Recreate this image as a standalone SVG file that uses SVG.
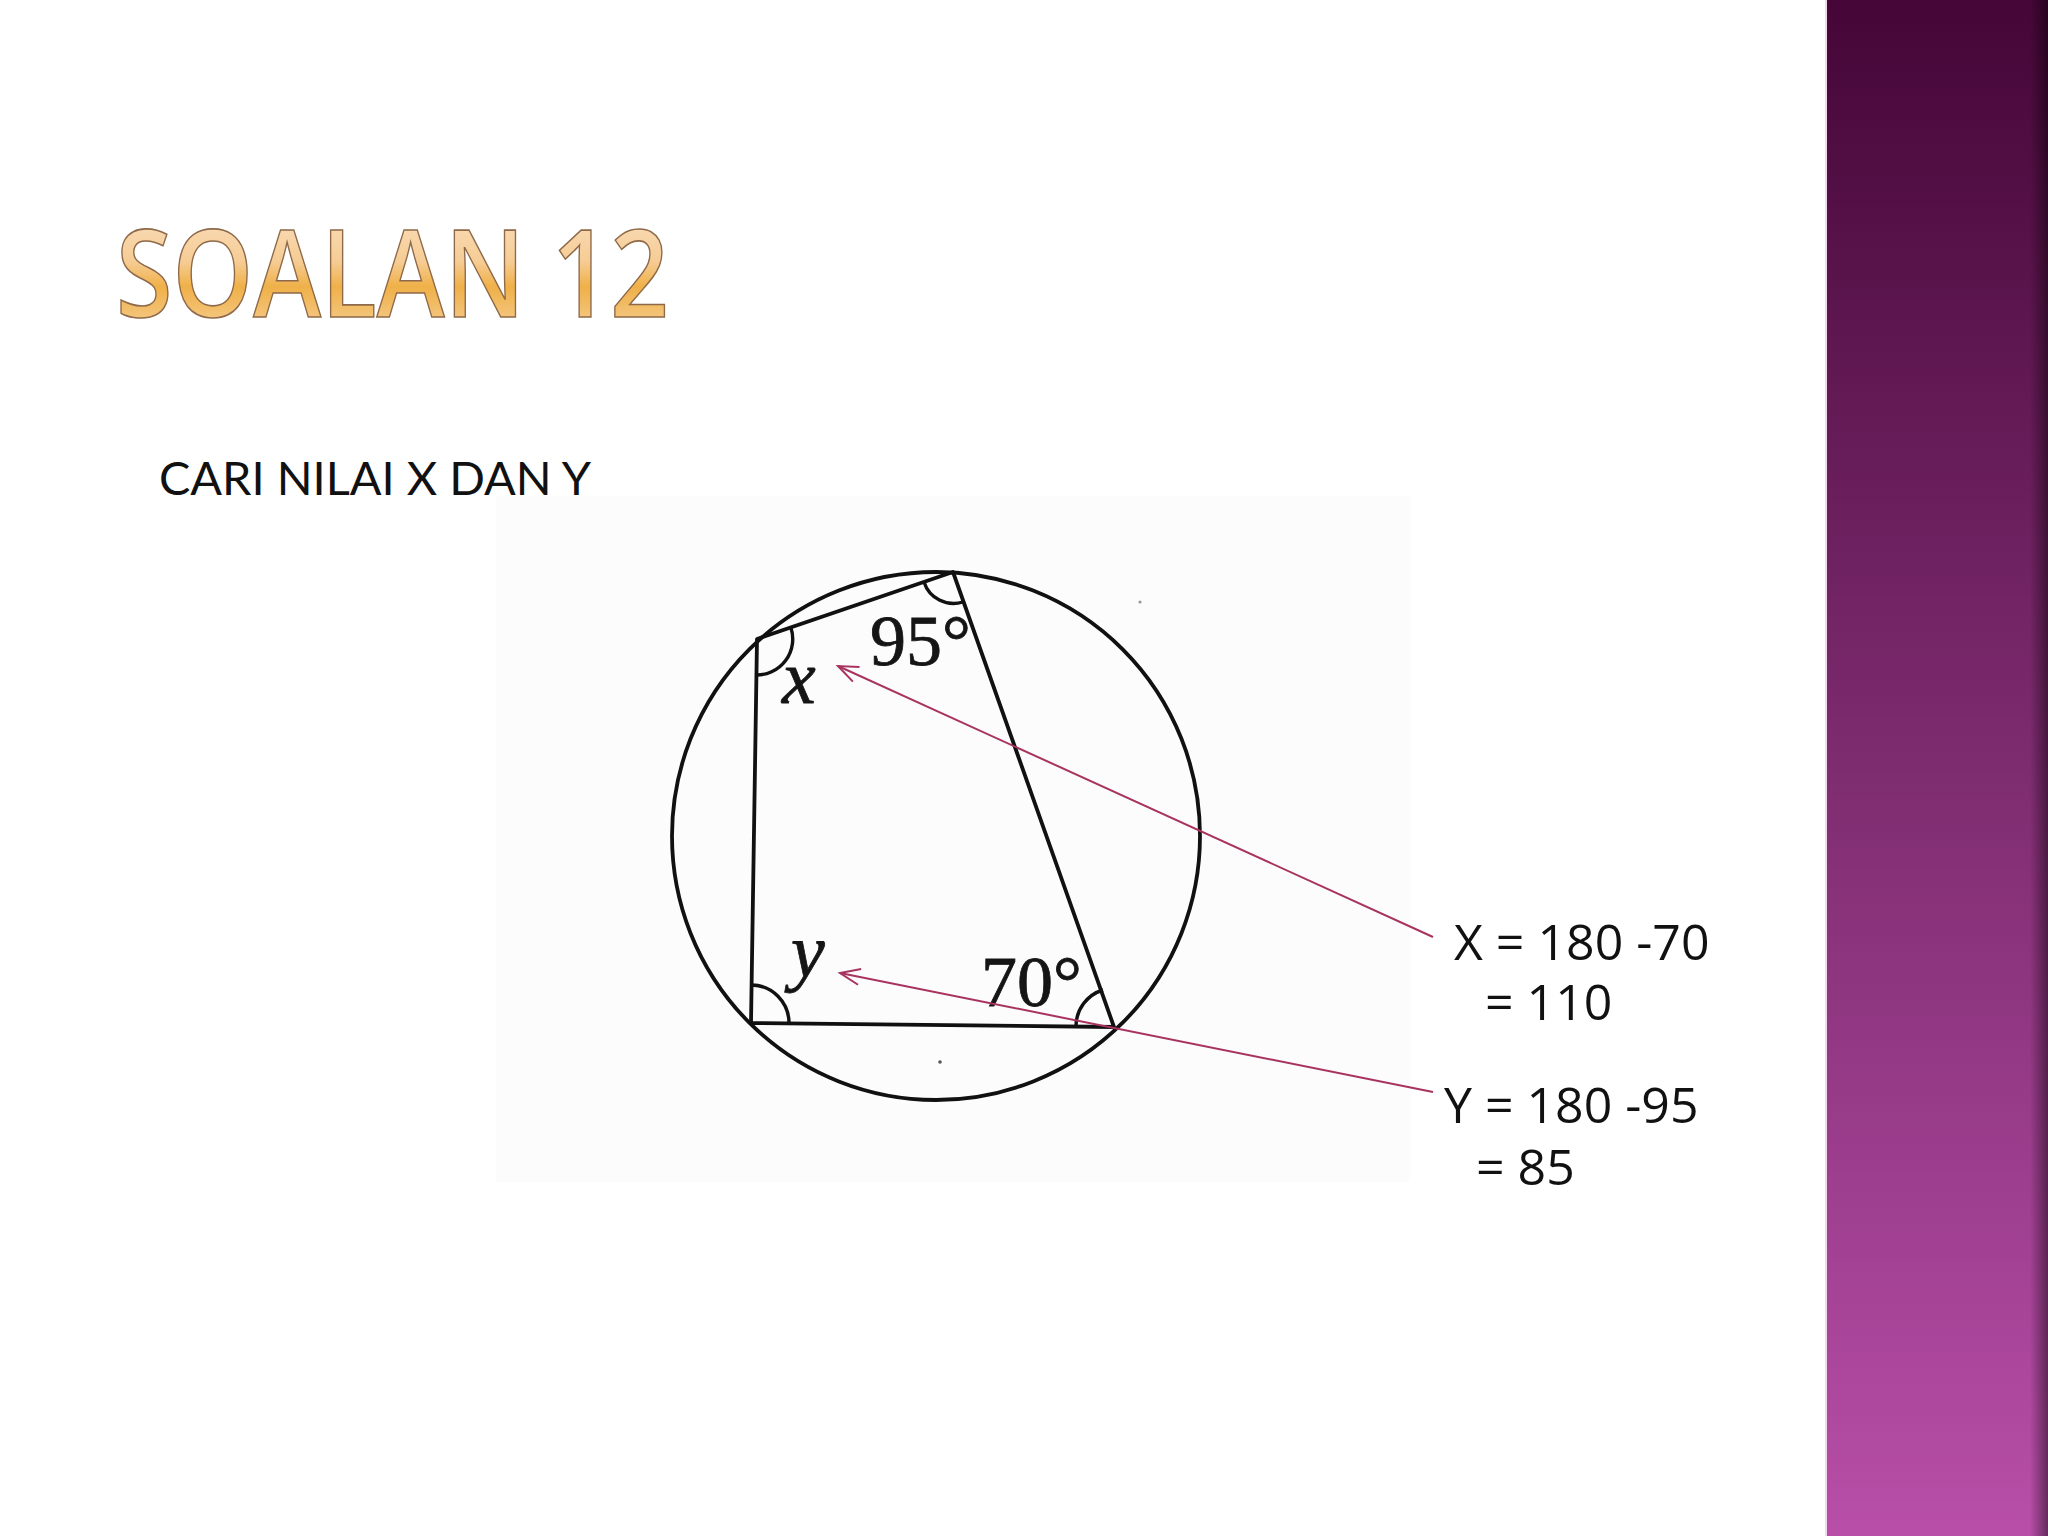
<svg xmlns="http://www.w3.org/2000/svg" width="2048" height="1536" viewBox="0 0 2048 1536">
  <defs>
    <linearGradient id="side" x1="0" y1="0" x2="0" y2="1">
      <stop offset="0" stop-color="#450637"/>
      <stop offset="0.5" stop-color="#7e2c70"/>
      <stop offset="1" stop-color="#b84ea8"/>
    </linearGradient>
    <linearGradient id="sideEdge" x1="0" y1="0" x2="1" y2="0">
      <stop offset="0" stop-color="#000" stop-opacity="0"/>
      <stop offset="1" stop-color="#000" stop-opacity="0.45"/>
    </linearGradient>
    <linearGradient id="title" x1="0" y1="0" x2="0" y2="1">
      <stop offset="0" stop-color="#fbe6d0"/>
      <stop offset="0.45" stop-color="#f6cc94"/>
      <stop offset="0.6" stop-color="#efb048"/>
      <stop offset="1" stop-color="#f9dcb4"/>
    </linearGradient>
    <marker id="arr" markerWidth="30" markerHeight="30" refX="21" refY="10" orient="auto" markerUnits="userSpaceOnUse" viewBox="0 0 30 20">
      <path d="M1,2 L21,10 L1,18" fill="none" stroke="#a8335f" stroke-width="2"/>
    </marker>
    <style>
      .geo { fill: none; stroke: #111; stroke-width: 3.8; stroke-linecap: round; stroke-linejoin: round; }
      .arc { fill: none; stroke: #111; stroke-width: 3.4; }
      .lbl { font-family: "Liberation Serif", "Times New Roman", serif; fill: #151515; stroke: #151515; stroke-width: 0.8; }
      .ans { font-family: "Open Sans", "Noto Sans", sans-serif; font-size: 50px; fill: #111; }
      .conn { fill: none; stroke: #a8335f; stroke-width: 2; marker-end: url(#arr); }
    </style>
  </defs>

  <rect x="0" y="0" width="2048" height="1536" fill="#ffffff"/>

  <g id="sidebar">
    <rect x="1826" y="0" width="222" height="1536" fill="url(#side)"/>
    <rect x="2030" y="0" width="18" height="1536" fill="url(#sideEdge)"/>
    <rect x="1825" y="0" width="2" height="1536" fill="#f2d8ee"/>
  </g>

  <g id="title-text">
    <text x="116" y="317" font-family="'Open Sans', 'Noto Sans', sans-serif" font-weight="600" font-size="122" textLength="553" lengthAdjust="spacingAndGlyphs" fill="url(#title)" stroke="#8f6a4a" stroke-width="1.6">SOALAN 12</text>
  </g>

  <g id="question">
    <text x="159" y="495" font-family="Lato, 'Open Sans', sans-serif" font-size="46" textLength="432" lengthAdjust="spacingAndGlyphs" fill="#111">CARI NILAI X DAN Y</text>
  </g>

  <g id="figure">
    <rect x="496" y="496" width="914" height="686" fill="#fcfcfc"/>
    <circle cx="936" cy="836" r="264" class="geo"/>
    <polygon points="953,572 757,639 751,1023 1114,1027" class="geo"/>
    <path d="M 924,582 A 31 31 0 0 0 963,602" class="arc"/>
    <path d="M 791,628 A 36 36 0 0 1 756,675" class="arc"/>
    <path d="M 752,985 A 38 38 0 0 1 789,1023" class="arc"/>
    <path d="M 1076,1026 A 38 38 0 0 1 1103,990" class="arc"/>
    <circle cx="940" cy="1062" r="1.8" fill="#555"/>
    <circle cx="1140" cy="602" r="1.6" fill="#999"/>
  </g>

  <g id="labels">
    <text x="870" y="665" class="lbl" font-size="72">95°</text>
    <text x="782" y="703" class="lbl" font-size="76" font-style="italic">x</text>
    <text x="791" y="977" class="lbl" font-size="76" font-style="italic">y</text>
    <text x="981" y="1006" class="lbl" font-size="72">70°</text>
  </g>

  <g id="connectors">
    <line x1="1433" y1="937" x2="838" y2="666" class="conn"/>
    <line x1="1433" y1="1092" x2="840" y2="973" class="conn"/>
  </g>

  <g id="answer-x">
    <text x="1454" y="960" class="ans">X = 180 -70</text>
    <text x="1485" y="1020" class="ans">= 110</text>
  </g>
  <g id="answer-y">
    <text x="1444" y="1123" class="ans">Y = 180 -95</text>
    <text x="1476" y="1185" class="ans">= 85</text>
  </g>
</svg>
